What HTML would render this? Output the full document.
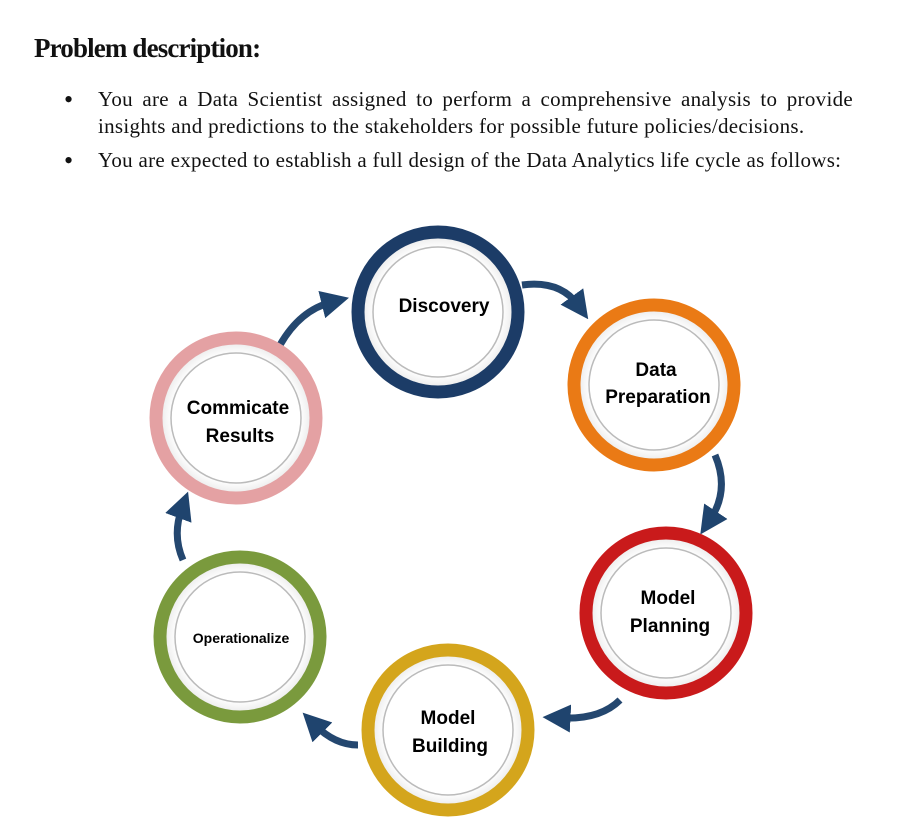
<!DOCTYPE html>
<html><head><style>
body{margin:0;background:#fff;width:922px;height:830px;overflow:hidden;font-family:"Liberation Serif",serif;color:#111}
h1{position:absolute;left:34px;top:33px;margin:0;font-size:27px;font-weight:bold;letter-spacing:-0.85px}
.b{position:absolute;left:64px;font-size:21px;line-height:27px;letter-spacing:0.3px}
.b span{position:absolute;left:0;font-size:26px;line-height:27px}
.b div{margin-left:34px}
</style></head><body>
<h1>Problem description:</h1>
<div class="b" style="top:86px;width:789px"><span>•</span><div style="text-align:justify">You are a Data Scientist assigned to perform a comprehensive analysis to provide insights and predictions to the stakeholders for possible future policies/decisions.</div></div>
<div class="b" style="top:147px;width:830px"><span>•</span><div style="white-space:nowrap">You are expected to establish a full design of the Data Analytics life cycle as follows:</div></div>
<svg width="922" height="830" style="position:absolute;left:0;top:0" font-family="'Liberation Sans',sans-serif" font-weight="bold" font-size="19">
<defs>
<radialGradient id="w" cx="50%" cy="50%" r="50%"><stop offset="80%" stop-color="#fff"/><stop offset="100%" stop-color="#e4e4e4"/></radialGradient>
<marker id="a" markerWidth="4" markerHeight="4" refX="1.5" refY="2" orient="auto"><path d="M0,0L4,2L0,4z" fill="#1f446e"/></marker>
</defs>
<g fill="none" stroke="#24476f" stroke-width="7" marker-end="url(#a)">
<path d="M522,285 Q560,280 578,305"/>
<path d="M715,455 Q730,490 710,520"/>
<path d="M620,700 Q600,720 560,718"/>
<path d="M358,745 Q335,745 315,725"/>
<path d="M183,560 Q172,535 182,508"/>
<path d="M280,345 Q300,310 332,302"/>
</g>
<g>
<circle cx="438" cy="312" r="80" fill="url(#w)" stroke="#1c3c67" stroke-width="13"/>
<circle cx="438" cy="312" r="65" fill="#fff" stroke="#bbb" stroke-width="1.5"/>
<text x="444" y="312" text-anchor="middle">Discovery</text>
<circle cx="654" cy="385" r="80" fill="url(#w)" stroke="#ea7a15" stroke-width="13"/>
<circle cx="654" cy="385" r="65" fill="#fff" stroke="#bbb" stroke-width="1.5"/>
<text x="656" y="376" text-anchor="middle">Data</text><text x="658" y="403" text-anchor="middle">Preparation</text>
<circle cx="666" cy="613" r="80" fill="url(#w)" stroke="#c91a1b" stroke-width="13"/>
<circle cx="666" cy="613" r="65" fill="#fff" stroke="#bbb" stroke-width="1.5"/>
<text x="668" y="604" text-anchor="middle">Model</text><text x="670" y="632" text-anchor="middle">Planning</text>
<circle cx="448" cy="730" r="80" fill="url(#w)" stroke="#d4a51c" stroke-width="13"/>
<circle cx="448" cy="730" r="65" fill="#fff" stroke="#bbb" stroke-width="1.5"/>
<text x="448" y="724" text-anchor="middle">Model</text><text x="450" y="752" text-anchor="middle">Building</text>
<circle cx="240" cy="637" r="80" fill="url(#w)" stroke="#7a9a3d" stroke-width="13"/>
<circle cx="240" cy="637" r="65" fill="#fff" stroke="#bbb" stroke-width="1.5"/>
<text x="241" y="643" text-anchor="middle" font-size="14">Operationalize</text>
<circle cx="236" cy="418" r="80" fill="url(#w)" stroke="#e4a1a3" stroke-width="13"/>
<circle cx="236" cy="418" r="65" fill="#fff" stroke="#bbb" stroke-width="1.5"/>
<text x="238" y="414" text-anchor="middle">Commicate</text><text x="240" y="442" text-anchor="middle">Results</text>
</g>
</svg>
</body></html>
